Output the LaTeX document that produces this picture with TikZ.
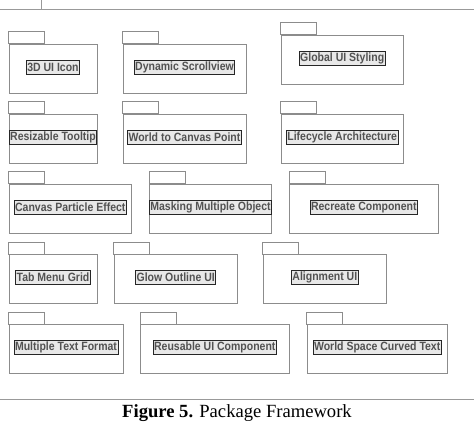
\documentclass[tikz,border=0pt]{standalone}
\usepackage{fontspec}
\setmainfont{Liberation Serif}
\newfontfamily\labelfont[FakeStretch=0.875]{Liberation Sans}
\usepackage{tikz}
\definecolor{pkggray}{HTML}{8C8C8C}
\tikzstyle{pkg} = [draw=pkggray, line width=0.8pt, rectangle, inner sep=0pt, minimum height=49pt]
\tikzstyle{tab} = [draw=pkggray, line width=0.8pt]
\tikzstyle{lbl} = [draw=black!85, fill=black!9, text=black!68, line width=0.7pt, inner xsep=1pt, inner ysep=0pt, minimum height=14pt, font={\labelfont\bfseries\fontsize{12}{13}\selectfont}]
\tikzstyle{rule} = [draw=black!40, line width=0.7pt]

\begin{document}
\begin{tikzpicture}[x=1pt, y=-1pt]
        \useasboundingbox (0,0) rectangle (474,421);
        \draw[rule] (0,9) -- (474,9);
        \draw[rule] (41,0) -- (41,9);
        % packages
        \node[pkg, minimum width=88pt](icon) at (53,68.4){};
        \node[pkg, minimum width=123pt](scroll) at (184.5,68.4){};
        \node[pkg, minimum width=122pt](styling) at (342.2,59.7){};
        \node[pkg, minimum width=88pt](tooltip) at (53,138.5){};
        \node[pkg, minimum width=123pt](canvaspt) at (184.5,138.5){};
        \node[pkg, minimum width=122pt](lifecycle) at (342.2,138.5){};
        \node[pkg, minimum width=122.7pt](particle) at (70.3,208.7){};
        \node[pkg, minimum width=122.4pt](masking) at (210.5,208.7){};
        \node[pkg, minimum width=149pt](recreate) at (363.8,208.7){};
        \node[pkg, minimum width=88pt](tabgrid) at (53,278.8){};
        \node[pkg, minimum width=123.3pt](glow) at (175.7,278.8){};
        \node[pkg, minimum width=123.7pt](align) at (324.8,278.8){};
        \node[pkg, minimum width=114pt](textfmt) at (66,348.8){};
        \node[pkg, minimum width=149pt](reusable) at (214.8,348.8){};
        \node[pkg, minimum width=140.3pt](curved) at (377.2,348.8){};
        \foreach \p in {icon,scroll,styling,tooltip,canvaspt,lifecycle,particle,masking,recreate,tabgrid,glow,align,textfmt,reusable,curved}
          \draw[tab] (\p.north west) rectangle ++(36,-12);
        % labels
        \node[lbl](iconl) at ([yshift=1.5pt]icon.center){3D UI Icon};
        \node[lbl](scrolll) at ([yshift=1.5pt]scroll.center){Dynamic Scrollview};
        \node[lbl](stylingl) at ([yshift=1.5pt]styling.center){Global UI Styling};
        \node[lbl](tooltipl) at ([yshift=1.5pt]tooltip.center){Resizable Tooltip};
        \node[lbl](canvasptl) at ([yshift=1.5pt]canvaspt.center){World to Canvas Point};
        \node[lbl](lifecyclel) at ([yshift=1.5pt]lifecycle.center){Lifecycle Architecture};
        \node[lbl](particlel) at ([yshift=1.5pt]particle.center){Canvas Particle Effect};
        \node[lbl](maskingl) at ([yshift=1.5pt]masking.center){Masking Multiple Object};
        \node[lbl](recreatel) at ([yshift=1.5pt]recreate.center){Recreate Component};
        \node[lbl](tabgridl) at ([yshift=1.5pt]tabgrid.center){Tab Menu Grid};
        \node[lbl](glowl) at ([yshift=1.5pt]glow.center){Glow Outline UI};
        \node[lbl](alignl) at ([yshift=1.5pt]align.center){Alignment UI};
        \node[lbl](textfmtl) at ([yshift=1.5pt]textfmt.center){Multiple Text Format};
        \node[lbl](reusablel) at ([yshift=1.5pt]reusable.center){Reusable UI Component};
        \node[lbl](curvedl) at ([yshift=1.5pt]curved.center){World Space Curved Text};
        % caption
        \draw[rule] (0,399.3) -- (474,399.3);
        \node[anchor=base, inner sep=0pt, font={\fontsize{18.6}{20}\selectfont}](caption) at (237,417.7){\textbf{Figure 5.} Package Framework};
      \end{tikzpicture}
\end{document}
